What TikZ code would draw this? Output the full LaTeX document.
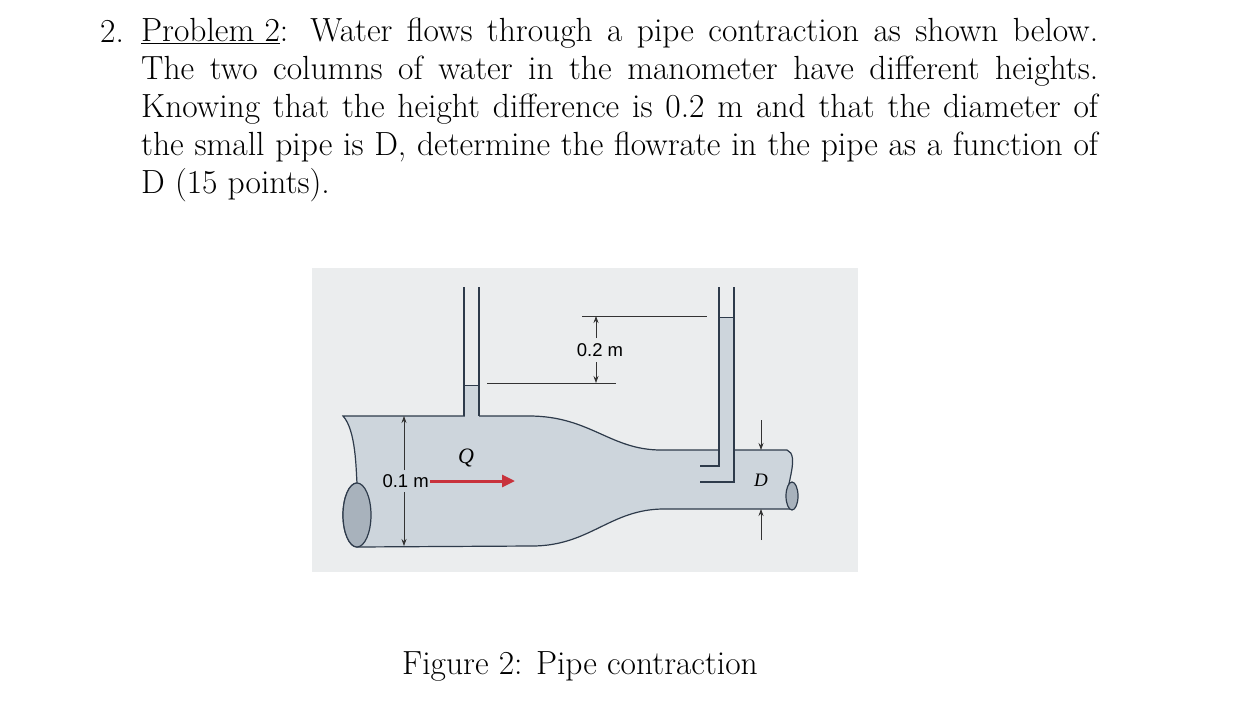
\documentclass[tikz,border=0pt]{standalone}
\usepackage{fontspec}
\newfontfamily\lab{Liberation Sans}
\newfontfamily\labser{Liberation Serif}
\usetikzlibrary{arrows.meta}
\definecolor{bgc}{HTML}{EBEDEE}
\definecolor{water}{HTML}{CDD5DC}
\definecolor{endc}{HTML}{A8B2BC}
\definecolor{edge}{HTML}{2E3B4B}
\definecolor{qred}{HTML}{C8323C}
\tikzset{
  body/.style={fill=water,draw=edge,line width=1.2pt},
  wall/.style={draw=edge,line width=1.2pt},
  dim/.style={draw=black!80,line width=0.7pt},
  dimarr/.style={dim,-{Stealth[length=7pt,width=5pt]}},
  lbl/.style={font=\lab\fontsize{18.5}{20}\selectfont,inner sep=0pt},
  txt/.style={font=\fontsize{33.5}{38}\selectfont,inner sep=0pt}
}
\begin{document}
\begin{tikzpicture}[x=1pt,y=-1pt]
\path[use as bounding box,fill=white] (0,0) rectangle (1234,720);
% text
\node[txt,anchor=base west] (num) at (100,42) {2.};
\node[txt,anchor=north west,text width=957pt,align=justify] (para) at (141,18)
{\underline{Problem 2}: Water flows through a pipe contraction as shown below.\linebreak
The two columns of water in the manometer have different heights.\linebreak
Knowing that the height difference is 0.2 m and that the diameter of\linebreak
the small pipe is D, determine the flowrate in the pipe as a function of\linebreak
D (15 points).};
% background
\fill[bgc] (312,268) rectangle (858,572);
% pipe body
\path[body] (343,416) -- (529,416) .. controls (590,416) and (610,450) .. (661,450) -- (787,450)
  .. controls (800,455) and (786,485) .. (788,496) .. controls (789,505) and (792,509) .. (792,509)
  -- (664,509) .. controls (610,509) and (590,546) .. (532,546) -- (357,547)
  arc[start angle=90,end angle=270,x radius=14,y radius=32]
  .. controls (356,470) and (356,430) .. (343,416) -- cycle;
\draw[wall,fill=endc] (357,515) ellipse[x radius=14,y radius=32];
\draw[wall,fill=endc] (792,496) ellipse[x radius=6,y radius=14];
% left tube
\fill[water] (464.5,385) rectangle (478.5,417);
\draw[wall] (464,287) -- (464,416) (479,287) -- (479,416);
\draw[edge,line width=0.8pt] (464,385) -- (479,385);
% right tube
\fill[water] (719.5,317) rectangle (733.5,451);
\draw[edge,line width=0.8pt] (719,317) -- (734,317);
\draw[wall] (719,287) -- (719,466) -- (700,466);
\draw[wall] (734,287) -- (734,482) -- (700,482);
% 0.2 m dimension
\coordinate (u1) at (582,316); \coordinate (u2) at (707,316);
\coordinate (l1) at (487,383); \coordinate (l2) at (616,383);
\draw[dim] (u1) -- (u2);
\draw[dim] (l1) -- (l2);
\node[lbl] (h) at (600,350) {0.2 m};
\coordinate (ha) at (596,316); \coordinate (hb) at (596,383);
\draw[dimarr] (596,338) -- (ha);
\draw[dimarr] (596,362) -- (hb);
% 0.1 m dimension
\node[lbl,anchor=east] (d1) at (429,481) {0.1 m};
\coordinate (dt) at (404,416); \coordinate (db) at (404,546);
\draw[dimarr] (404,470) -- (dt);
\draw[dimarr] (404,492) -- (db);
% flow arrow
\node[font=\labser\itshape\fontsize{22}{24}\selectfont,inner sep=0pt] (Q) at (466,458) {Q};
\coordinate (qs) at (430,481); \coordinate (qe) at (515,481);
\draw[qred,line width=3pt,-{Triangle[length=13pt,width=12pt]}] (qs) -- (qe);
% D dimension
\node[font=\labser\itshape\fontsize{19}{20}\selectfont,inner sep=0pt] (D) at (761,480) {D};
\coordinate (Dt) at (761,450); \coordinate (Db) at (761,509);
\draw[dimarr] (761,420) -- (Dt);
\draw[dimarr] (761,540) -- (Db);
% caption
\node[txt] (cap) at (580,666) {Figure 2: Pipe contraction};
\end{tikzpicture}
\end{document}
